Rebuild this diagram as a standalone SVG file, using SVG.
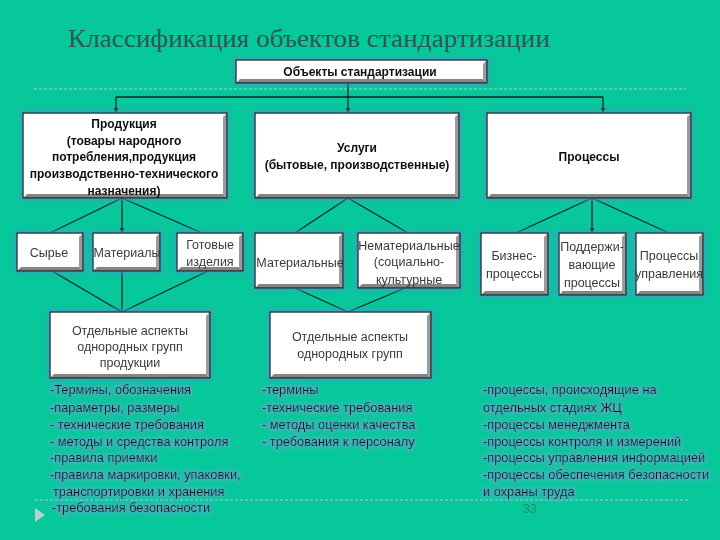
<svg xmlns="http://www.w3.org/2000/svg" width="720" height="540" viewBox="0 0 720 540">
<style>
.bx{fill:#ffffff}
.bo{fill:none;stroke:#1e2424;stroke-width:1.3}
.br{fill:#9c9c9c}
.bb{fill:#858585}
.bt{font-family:"Liberation Sans",Arial,sans-serif;font-size:12px;font-weight:bold;fill:#111;text-anchor:middle}
.nt{font-family:"Liberation Sans",Arial,sans-serif;font-size:12.5px;fill:#3a3a3a;text-anchor:middle}
.lt{font-family:"Liberation Sans",Arial,sans-serif;font-size:12.8px;fill:#101418}
.cn{stroke:#14242a;stroke-width:1.3;fill:none}
.dl{stroke:#9fd8c8;stroke-width:1;stroke-dasharray:3 2}
</style>
<defs>
<filter id="glow" x="-10%" y="-20%" width="120%" height="140%">
<feMorphology in="SourceAlpha" operator="dilate" radius="2" result="d"/>
<feGaussianBlur in="d" stdDeviation="2.5" result="b"/>
<feFlood flood-color="#3f9cc4" flood-opacity="0.8"/>
<feComposite in2="b" operator="in" result="g"/>
<feMerge><feMergeNode in="g"/><feMergeNode in="SourceGraphic"/></feMerge>
</filter>
<filter id="tglow" x="-5%" y="-20%" width="110%" height="140%">
<feMorphology in="SourceAlpha" operator="dilate" radius="1.5" result="d"/>
<feGaussianBlur in="d" stdDeviation="1.5" result="b"/>
<feFlood flood-color="#5aa8c8" flood-opacity="0.7"/>
<feComposite in2="b" operator="in" result="g"/>
<feMerge><feMergeNode in="g"/><feMergeNode in="SourceGraphic"/></feMerge>
</filter>
<marker id="ah" viewBox="0 0 6 6" refX="6" refY="3" markerWidth="5" markerHeight="5" orient="auto" markerUnits="userSpaceOnUse">
<path d="M0,0 L6,3 L0,6 z" fill="#14242a"/>
</marker>
</defs>
<rect width="720" height="540" fill="#07c89b"/>
<text x="68" y="47" font-family="Liberation Serif,'Times New Roman',serif" font-size="25" fill="#2b5a54" textLength="482" lengthAdjust="spacingAndGlyphs">Классификация объектов стандартизации</text>
<line class="dl" x1="34" y1="89" x2="686" y2="89"/>
<line class="dl" x1="35" y1="500" x2="688" y2="500"/>
<polygon points="35,508 45,515 35,522" fill="#b3d3d3"/>
<text x="530" y="513" font-family="Liberation Sans,Arial,sans-serif" font-size="12" fill="#1d8f72" text-anchor="middle">33</text>

<g id="connectors">
<line class="cn" x1="348" y1="83" x2="348" y2="97"/>
<line class="cn" x1="116" y1="97" x2="603" y2="97"/>
<line class="cn" x1="116" y1="97" x2="116" y2="113" marker-end="url(#ah)"/>
<line class="cn" x1="348" y1="97" x2="348" y2="113" marker-end="url(#ah)"/>
<line class="cn" x1="603" y1="97" x2="603" y2="113" marker-end="url(#ah)"/>
<line class="cn" x1="122" y1="198" x2="50" y2="233"/>
<line class="cn" x1="122" y1="198" x2="122" y2="233" marker-end="url(#ah)"/>
<line class="cn" x1="122" y1="198" x2="202" y2="233"/>
<line class="cn" x1="348" y1="198" x2="295" y2="233"/>
<line class="cn" x1="348" y1="198" x2="408" y2="233"/>
<line class="cn" x1="592" y1="198" x2="516" y2="233"/>
<line class="cn" x1="592" y1="198" x2="592" y2="233" marker-end="url(#ah)"/>
<line class="cn" x1="592" y1="198" x2="669" y2="233"/>
<line class="cn" x1="52" y1="271" x2="122" y2="312"/>
<line class="cn" x1="122" y1="271" x2="122" y2="312"/>
<line class="cn" x1="208" y1="271" x2="122" y2="312"/>
<line class="cn" x1="295" y1="288" x2="348" y2="312"/>
<line class="cn" x1="405" y1="288" x2="348" y2="312"/>
</g>

<g id="n-objects" filter="url(#glow)">
<rect class="bx" x="236" y="60" width="251" height="23"/>
<polygon class="br" points="483,64 487,60 487,83 483,79"/>
<polygon class="bb" points="236,83 240,79 483,79 487,83"/>
<rect class="bo" x="236" y="60" width="251" height="23"/>
<text class="bt" x="360" y="76" font-size="13">Объекты стандартизации</text>
</g>

<g id="n-production" filter="url(#glow)">
<rect class="bx" x="23" y="113" width="204" height="85"/>
<polygon class="br" points="223,117 227,113 227,198 223,194"/>
<polygon class="bb" points="23,198 27,194 223,194 227,198"/>
<rect class="bo" x="23" y="113" width="204" height="85"/>
<text class="bt" x="124" y="128">Продукция</text>
<text class="bt" x="124" y="145">(товары народного</text>
<text class="bt" x="124" y="161">потребления,продукция</text>
<text class="bt" x="124" y="178">производственно-технического</text>
<text class="bt" x="124" y="195">назначения)</text>
</g>

<g id="n-services" filter="url(#glow)">
<rect class="bx" x="255" y="113" width="204" height="85"/>
<polygon class="br" points="455,117 459,113 459,198 455,194"/>
<polygon class="bb" points="255,198 259,194 455,194 459,198"/>
<rect class="bo" x="255" y="113" width="204" height="85"/>
<text class="bt" x="357" y="152">Услуги</text>
<text class="bt" x="357" y="169">(бытовые, производственные)</text>
</g>

<g id="n-processes" filter="url(#glow)">
<rect class="bx" x="487" y="113" width="204" height="85"/>
<polygon class="br" points="687,117 691,113 691,198 687,194"/>
<polygon class="bb" points="487,198 491,194 687,194 691,198"/>
<rect class="bo" x="487" y="113" width="204" height="85"/>
<text class="bt" x="589" y="161">Процессы</text>
</g>

<g id="n-raw" filter="url(#glow)">
<rect class="bx" x="17" y="233" width="66" height="38"/>
<polygon class="br" points="79,237 83,233 83,271 79,267"/>
<polygon class="bb" points="17,271 21,267 79,267 83,271"/>
<rect class="bo" x="17" y="233" width="66" height="38"/>
<text class="nt" x="49" y="257">Сырье</text>
</g>

<g id="n-materials" filter="url(#glow)">
<rect class="bx" x="93" y="233" width="67" height="38"/>
<polygon class="br" points="156,237 160,233 160,271 156,267"/>
<polygon class="bb" points="93,271 97,267 156,267 160,271"/>
<rect class="bo" x="93" y="233" width="67" height="38"/>
<text class="nt" x="127" y="257">Материалы</text>
</g>

<g id="n-finished" filter="url(#glow)">
<rect class="bx" x="177" y="233" width="66" height="38"/>
<polygon class="br" points="239,237 243,233 243,271 239,267"/>
<polygon class="bb" points="177,271 181,267 239,267 243,271"/>
<rect class="bo" x="177" y="233" width="66" height="38"/>
<text class="nt" x="210" y="249">Готовые</text>
<text class="nt" x="210" y="266">изделия</text>
</g>

<g id="n-material-services" filter="url(#glow)">
<rect class="bx" x="255" y="233" width="88" height="55"/>
<polygon class="br" points="339,237 343,233 343,288 339,284"/>
<polygon class="bb" points="255,288 259,284 339,284 343,288"/>
<rect class="bo" x="255" y="233" width="88" height="55"/>
<text class="nt" x="300" y="267">Материальные</text>
</g>

<g id="n-nonmaterial-services" filter="url(#glow)">
<rect class="bx" x="358" y="233" width="102" height="55"/>
<polygon class="br" points="456,237 460,233 460,288 456,284"/>
<polygon class="bb" points="358,288 362,284 456,284 460,288"/>
<rect class="bo" x="358" y="233" width="102" height="55"/>
<text class="nt" x="409" y="250">Нематериальные</text>
<text class="nt" x="409" y="266">(социально-</text>
<text class="nt" x="409" y="284">культурные</text>
</g>

<g id="n-business" filter="url(#glow)">
<rect class="bx" x="481" y="233" width="67" height="62"/>
<polygon class="br" points="544,237 548,233 548,295 544,291"/>
<polygon class="bb" points="481,295 485,291 544,291 548,295"/>
<rect class="bo" x="481" y="233" width="67" height="62"/>
<text class="nt" x="514" y="260">Бизнес-</text>
<text class="nt" x="514" y="278">процессы</text>
</g>

<g id="n-support" filter="url(#glow)">
<rect class="bx" x="559" y="233" width="67" height="62"/>
<polygon class="br" points="622,237 626,233 626,295 622,291"/>
<polygon class="bb" points="559,295 563,291 622,291 626,295"/>
<rect class="bo" x="559" y="233" width="67" height="62"/>
<text class="nt" x="592" y="251">Поддержи-</text>
<text class="nt" x="592" y="269">вающие</text>
<text class="nt" x="592" y="287">процессы</text>
</g>

<g id="n-management" filter="url(#glow)">
<rect class="bx" x="636" y="233" width="67" height="62"/>
<polygon class="br" points="699,237 703,233 703,295 699,291"/>
<polygon class="bb" points="636,295 640,291 699,291 703,295"/>
<rect class="bo" x="636" y="233" width="67" height="62"/>
<text class="nt" x="669" y="260">Процессы</text>
<text class="nt" x="669" y="278">управления</text>
</g>

<g id="n-prod-aspects" filter="url(#glow)">
<rect class="bx" x="50" y="312" width="160" height="66"/>
<polygon class="br" points="206,316 210,312 210,378 206,374"/>
<polygon class="bb" points="50,378 54,374 206,374 210,378"/>
<rect class="bo" x="50" y="312" width="160" height="66"/>
<text class="nt" x="130" y="335">Отдельные аспекты</text>
<text class="nt" x="130" y="351">однородных групп</text>
<text class="nt" x="130" y="367">продукции</text>
</g>

<g id="n-serv-aspects" filter="url(#glow)">
<rect class="bx" x="270" y="312" width="161" height="66"/>
<polygon class="br" points="427,316 431,312 431,378 427,374"/>
<polygon class="bb" points="270,378 274,374 427,374 431,378"/>
<rect class="bo" x="270" y="312" width="161" height="66"/>
<text class="nt" x="350" y="341">Отдельные аспекты</text>
<text class="nt" x="350" y="358">однородных групп</text>
</g>

<g id="list-production" filter="url(#tglow)">
<text class="lt" x="50" y="394">-Термины, обозначения</text>
<text class="lt" x="50" y="412">-параметры, размеры</text>
<text class="lt" x="50" y="429">- технические требования</text>
<text class="lt" x="50" y="446">- методы и средства контроля</text>
<text class="lt" x="50" y="462">-правила приемки</text>
<text class="lt" x="50" y="479">-правила маркировки, упаковки,</text>
<text class="lt" x="53" y="496">транспортировки  и хранения</text>
<text class="lt" x="52" y="512">-требования безопасности</text>
</g>

<g id="list-services" filter="url(#tglow)">
<text class="lt" x="262" y="394">-термины</text>
<text class="lt" x="262" y="412">-технические требования</text>
<text class="lt" x="262" y="429">- методы оценки качества</text>
<text class="lt" x="262" y="446">- требования к персоналу</text>
</g>

<g id="list-processes" filter="url(#tglow)">
<text class="lt" x="483" y="394">-процессы, происходящие на</text>
<text class="lt" x="483" y="412">отдельных стадиях ЖЦ</text>
<text class="lt" x="483" y="429">-процессы менеджмента</text>
<text class="lt" x="483" y="446">-процессы контроля и измерений</text>
<text class="lt" x="483" y="462">-процессы управления информацией</text>
<text class="lt" x="483" y="479">-процессы обеспечения безопасности</text>
<text class="lt" x="483" y="496">и охраны труда</text>
</g>
</svg>
